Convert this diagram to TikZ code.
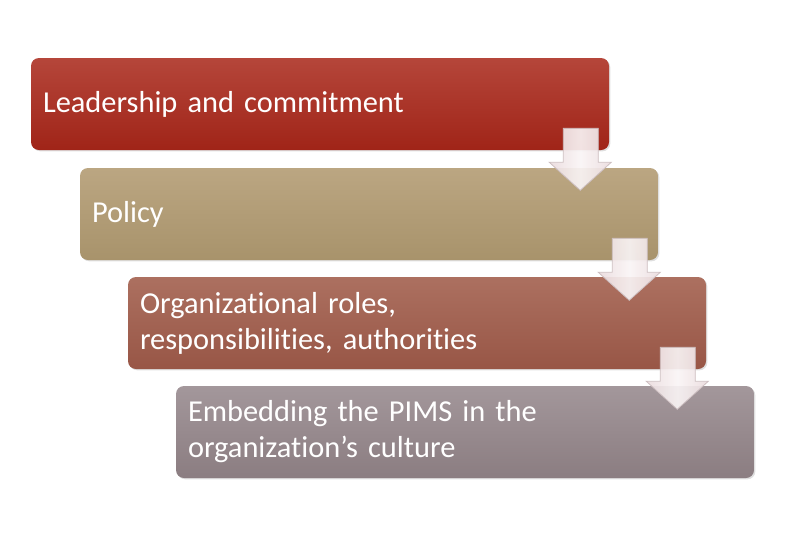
\documentclass[tikz,border=0pt]{standalone}
\usepackage{fontspec}
\setmainfont[Ligatures=NoCommon,WordSpace={0.75,0.5,0.5}]{Carlito}
\usetikzlibrary{calc,shadows}
\definecolor{redtop}{HTML}{B5463A}
\definecolor{redbot}{HTML}{A02418}
\definecolor{tantop}{HTML}{BBA682}
\definecolor{tanbot}{HTML}{A8936B}
\definecolor{rusttop}{HTML}{AC7060}
\definecolor{rustbot}{HTML}{985646}
\definecolor{greytop}{HTML}{A3979B}
\definecolor{greybot}{HTML}{8B7D81}
\definecolor{arrfill}{HTML}{EBDCDE}
\definecolor{arrline}{HTML}{CDBFC1}
\tikzset{
	pbox/.style={rounded corners=6pt,minimum width=433.5pt,minimum height=69pt,
		text width=415.5pt,inner xsep=9pt,align=left,text=white,
		font=\fontsize{22.8}{27}\selectfont,
		drop shadow={shadow xshift=1pt,shadow yshift=-1pt,opacity=0.25}},
	darrow/.style={left color=arrfill,right color=arrfill,middle color=white!70!arrfill,
		draw=arrline,line width=0.6pt,fill opacity=0.92}}

\begin{document}
\begin{tikzpicture}[x=0.75pt,y=-0.75pt]
	\useasboundingbox (0,0) rectangle (800,533);
	\node (L1) at (320,104) [pbox,top color=redtop,bottom color=redbot] {Leadership and commitment};
	\node (L2) at (369,214) [pbox,top color=tantop,bottom color=tanbot] {Policy};
	\node (L3) at (417,323) [pbox,top color=rusttop,bottom color=rustbot] {Organizational roles,\\responsibilities, authorities};
	\node (L4) at (465,432) [pbox,top color=greytop,bottom color=greybot] {Embedding the PIMS in the\\organization’s culture};
	\foreach \a/\b in {L1/L2,L2/L3,L3/L4}{
		\draw[darrow] ($(\a.south east)+(-46,-22)$) -- ($(\a.south east)+(-11,-22)$)
			-- ($(\a.south east)+(-11,12)$) -- ($(\a.south east)+(2,12)$)
			-- ($(\a.south east)+(-29,40)$) -- ($(\a.south east)+(-60,12)$)
			-- ($(\a.south east)+(-46,12)$) -- cycle;
	}
\end{tikzpicture}
\end{document}
